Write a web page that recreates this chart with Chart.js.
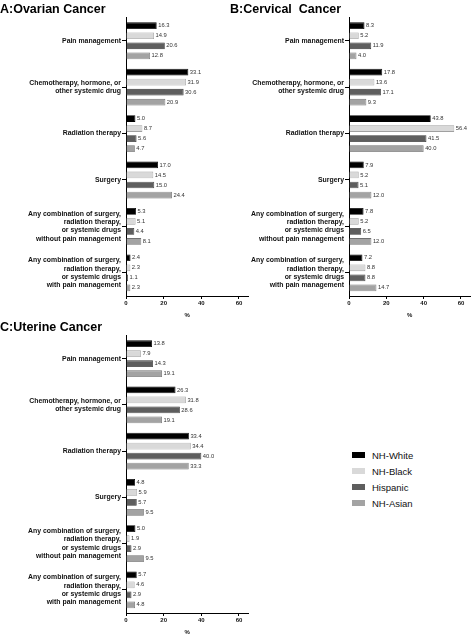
<!DOCTYPE html>
<html>
<head>
<meta charset="utf-8">
<script src="https://cdn.jsdelivr.net/npm/chart.js@4"></script>
<style>
  html, body { margin: 0; padding: 0; background: #fff; overflow: hidden; width: 474px; height: 635px; }
  .panel { position: absolute; }
  #legend { position: absolute; left: 352px; top: 447px; font: 9.5px "Liberation Sans", Arial, sans-serif; color: #111; -webkit-font-smoothing: antialiased; }
  .row { height: 16px; display: flex; align-items: center; color: #111; }
  .box { width: 13px; height: 6px; margin-right: 7px; }
</style>
</head>
<body>
<div class="panel" style="left:0;top:0;width:250px;height:320px"><canvas id="chartA"></canvas></div>
<div class="panel" style="left:228px;top:0;width:246px;height:320px"><canvas id="chartB"></canvas></div>
<div class="panel" style="left:0;top:318px;width:250px;height:319px"><canvas id="chartC"></canvas></div>
<div id="legend"></div>

<script>
const categories = [
  "Pain management",
  ["Chemotherapy, hormone, or", "other systemic drug"],
  "Radiation therapy",
  "Surgery",
  ["Any combination of surgery,", "radiation therapy,", "or systemic drugs", "without pain management"],
  ["Any combination of surgery,", "radiation therapy,", "or systemic drugs", "with pain management"]
];
const seriesNames = ["NH-White", "NH-Black", "Hispanic", "NH-Asian"];
const xTicks = [0, 20, 40, 60];

// A: Ovarian
const ovarianWhite    = [16.3, 33.1, 5.0, 17.0, 5.3, 2.4];
const ovarianBlack    = [14.9, 31.9, 8.7, 14.5, 5.1, 2.3];
const ovarianHispanic = [20.6, 30.6, 5.6, 15.0, 4.4, 1.1];
const ovarianAsian    = [12.8, 20.9, 4.7, 24.4, 8.1, 2.3];
// B: Cervical
const cervicalWhite    = [8.3, 17.8, 43.8, 7.9, 7.8, 7.2];
const cervicalBlack    = [5.2, 13.6, 56.4, 5.2, 5.2, 8.8];
const cervicalHispanic = [11.9, 17.1, 41.5, 5.1, 6.5, 8.8];
const cervicalAsian    = [4.0, 9.3, 40.0, 12.0, 12.0, 14.7];
// C: Uterine
const uterineWhite    = [13.8, 26.3, 33.4, 4.8, 5.0, 5.7];
const uterineBlack    = [7.9, 31.8, 34.4, 5.9, 1.9, 4.6];
const uterineHispanic = [14.3, 28.6, 40.0, 5.7, 2.9, 2.9];
const uterineAsian    = [19.1, 19.1, 33.3, 9.5, 9.5, 4.8];

const fills   = ["#000000", "#d9d9d9", "#5e5e5e", "#a3a3a3"];
const borders = ["#000000", "#a0a0a0", "#333333", "#707070"];
const FONT = '"Liberation Sans", Arial, sans-serif';

// value labels at the end of each bar
const barLabels = {
  id: "barLabels",
  afterDatasetsDraw(chart) {
    const ctx = chart.ctx;
    ctx.save();
    ctx.font = "5.8px " + FONT;
    ctx.fillStyle = "#333";
    ctx.textBaseline = "middle";
    chart.data.datasets.forEach((ds, i) => {
      chart.getDatasetMeta(i).data.forEach((bar, j) => {
        ctx.fillText(ds.data[j].toFixed(1), bar.x + 1.5, bar.y);
      });
    });
    ctx.restore();
  }
};

const panelTitle = {
  id: "panelTitle",
  afterDraw(chart, args, opts) {
    const ctx = chart.ctx;
    ctx.save();
    ctx.font = "bold 12.5px " + FONT;
    ctx.fillStyle = "#000";
    ctx.textBaseline = "alphabetic";
    ctx.fillText(opts.text, opts.x, opts.y);
    ctx.restore();
  }
};

function makePanel(id, title, titleX, padTop, padRight, yWidth, rows) {
  new Chart(document.getElementById(id), {
    type: "bar",
    data: {
      labels: categories,
      datasets: rows.map((r, i) => ({
        label: seriesNames[i],
        data: r,
        backgroundColor: fills[i],
        borderColor: borders[i],
        borderWidth: 0.8,
        borderSkipped: "start",
        categoryPercentage: 0.865,
        barPercentage: 0.67
      }))
    },
    options: {
      indexAxis: "y",
      responsive: true,
      maintainAspectRatio: false,
      animation: false,
      layout: { padding: { top: padTop, right: padRight, left: 0, bottom: 0 } },
      plugins: {
        legend: { display: false },
        tooltip: { enabled: false },
        panelTitle: { text: title, x: titleX, y: 13 }
      },
      scales: {
        x: {
          min: 0,
          max: 65,
          afterBuildTicks: s => { s.ticks = xTicks.map(v => ({ value: v })); },
          afterFit: s => { s.height = 24; },
          grid: { drawOnChartArea: false, tickLength: 3, color: "#000" },
          border: { color: "#000", width: 1 },
          ticks: { padding: 1, maxRotation: 0, color: "#111", font: { family: FONT, size: 6, weight: "bold" } },
          title: { display: true, text: "%", color: "#111", padding: { top: 0, bottom: 0.8 }, font: { family: FONT, size: 6, weight: "bold" } }
        },
        y: {
          afterFit: s => { s.width = yWidth; },
          grid: { drawOnChartArea: false, offset: false, tickLength: 4, color: "#000" },
          border: { color: "#000", width: 1 },
          ticks: { autoSkip: false, padding: 1, color: "#111", font: { family: FONT, size: 6.9, weight: "bold", lineHeight: 1.2 } }
        }
      }
    },
    plugins: [barLabels, panelTitle]
  });
}

makePanel("chartA", "A:Ovarian Cancer", 0, 5, 1.6, 126,
  [ovarianWhite, ovarianBlack, ovarianHispanic, ovarianAsian]);
makePanel("chartB", "B:Cervical  Cancer", 2, 5, 3.7, 121,
  [cervicalWhite, cervicalBlack, cervicalHispanic, cervicalAsian]);
makePanel("chartC", "C:Uterine Cancer", 0, 4, 1.6, 126,
  [uterineWhite, uterineBlack, uterineHispanic, uterineAsian]);

// legend
const legend = document.getElementById("legend");
seriesNames.forEach((name, i) => {
  const row = document.createElement("div");
  row.className = "row";
  row.innerHTML = '<span class="box" style="background:' + fills[i] + '"></span>' + name;
  legend.appendChild(row);
});
</script>
</body>
</html>
